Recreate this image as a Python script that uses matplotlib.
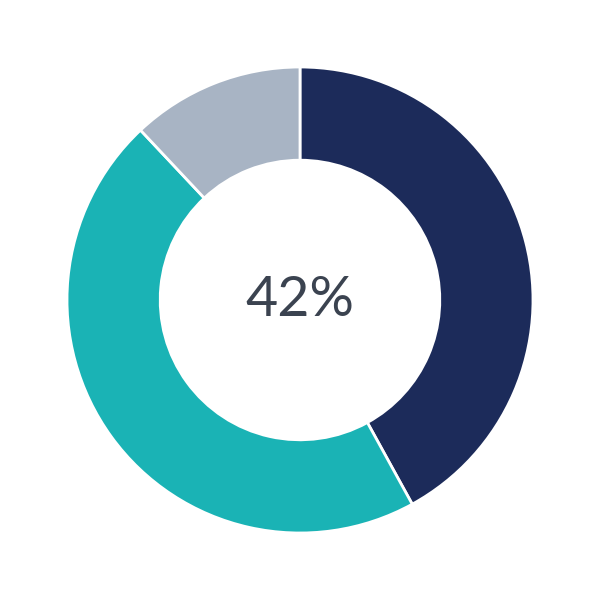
import matplotlib
matplotlib.use('Agg')
import matplotlib.pyplot as plt

# slice shares, clockwise from the top
labels = ['Navy', 'Teal', 'Gray']
values = [42, 46, 12]
colors = ['#1c2b5a', '#1ab3b5', '#a8b4c4']
centerText = '42%'

fig = plt.figure(figsize=(6, 6), dpi=100)
ax = fig.add_axes([0, 0, 1, 1])
ax.pie(values, colors=colors, startangle=90, counterclock=False, radius=1,
       wedgeprops=dict(width=0.4, edgecolor='white', linewidth=2))
ax.text(0, 0, centerText, ha='center', va='center', fontsize=40,
        color='#3b4350', family='Lato')
lim = 300 / 233
ax.set_xlim(-lim, lim)
ax.set_ylim(-lim, lim)
ax.set_aspect('equal')
ax.axis('off')
fig.savefig('out.png', dpi=100, facecolor='white')
